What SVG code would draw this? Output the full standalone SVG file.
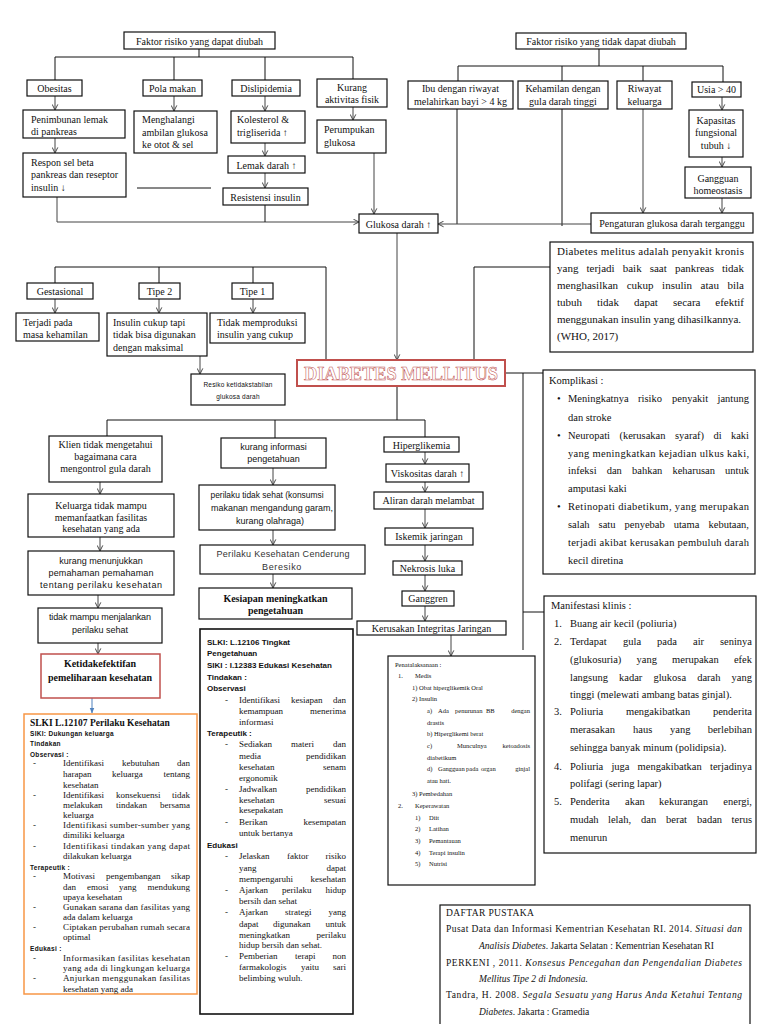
<svg xmlns="http://www.w3.org/2000/svg" width="768" height="1024" viewBox="0 0 768 1024">
<defs>
<style>
text{font-family:"Liberation Serif","Times New Roman",serif;font-size:10px;fill:#111;dominant-baseline:central}
.c{text-anchor:middle}
.e{text-anchor:end}
.s{font-family:"Liberation Sans",Arial,sans-serif;font-size:9px}
.b{font-weight:bold}
.i{font-style:italic}
.m{font-size:10.5px}
.d{font-size:11px}
.p{font-size:6.5px}
.l9{font-size:9px}
.h8{font-family:"Liberation Sans",Arial,sans-serif;font-size:8px;font-weight:bold}
.h6{font-family:"Liberation Sans",Arial,sans-serif;font-size:6.5px;font-weight:bold;letter-spacing:0.3px}
.bx{fill:#fff;stroke:#111;stroke-width:1.2}
.ln{fill:none;stroke:#111;stroke-width:1}
.ar{fill:none;stroke:#444;stroke-width:1;marker-end:url(#ah)}
</style>
<marker id="ah" viewBox="0 0 10 10" refX="9" refY="5" markerWidth="7" markerHeight="7" markerUnits="userSpaceOnUse" orient="auto"><path d="M1,1 L9,5 L1,9" fill="none" stroke="#444" stroke-width="1.4"/></marker>
<marker id="ahb" viewBox="0 0 10 10" refX="9" refY="5" markerWidth="6" markerHeight="6" markerUnits="userSpaceOnUse" orient="auto"><path d="M0,1 L10,5 L0,9 z" fill="#4f81bd"/></marker>
</defs>
<rect width="768" height="1024" fill="#fff"/>

<g id="connectors">
<path class="ln" d="M199,49 V57 M55,57 H353 M55,57 V80 M174,57 V80 M265,57 V80 M353,57 V79"/>
<path class="ar" d="M55,96 V110"/>
<path class="ar" d="M55,138 V153"/>
<path class="ar" d="M174,96 V111"/>
<path class="ar" d="M265,96 V111"/>
<path class="ar" d="M265,143 V156"/>
<path class="ar" d="M265,173 V188"/>
<path class="ar" d="M353,107 V120"/>
<path class="ar" d="M57,197 V222 H359"/>
<path class="ln" d="M265,205 V222 M137,188 H211"/>
<path class="ar" d="M374,153 V214"/>
<path class="ln" d="M599,49 V66 M458,66 H723 M458,66 V81 M562,66 V81 M643,66 V81 M723,66 V82"/>
<path class="ar" d="M722,97 V110"/>
<path class="ar" d="M722,157 V167"/>
<path class="ar" d="M722,198 V213"/>
<path class="ar" d="M643,109 V213"/>
<path class="ln" d="M457,109 V224 M562,109 V226"/>
<path class="ar" d="M591,224 H438"/>
<path class="ar" d="M397,233 V360"/>
<path class="ln" d="M326,360 V267 H55 V283 M159,267 V283 M253,267 V283"/>
<path class="ar" d="M55,299 V313"/>
<path class="ar" d="M159,299 V313"/>
<path class="ar" d="M253,299 V313"/>
<path class="ar" d="M200,356 V374"/>
<path class="ln" d="M474,360 V267 H550"/>
<path class="ln" d="M505,373 H543 M523,373 V650 M523,612 H544"/>
<path class="ln" d="M397,386 V420 M107,436 V420 H425 V437 M275,420 V438"/>
<path class="ar" d="M100,482 V494"/>
<path class="ar" d="M100,537 V551"/>
<path class="ar" d="M98,595 V608"/>
<path class="ar" d="M98,643 V654"/>
<path d="M92,698 V713" fill="none" stroke="#4f81bd" stroke-width="1" marker-end="url(#ahb)"/>
<path class="ar" d="M273,468 V485"/>
<path class="ar" d="M273,530 V545"/>
<path class="ar" d="M273,574 V588"/>
<path class="ar" d="M425,452 V464"/>
<path class="ar" d="M425,482 V492"/>
<path class="ar" d="M425,509 V528"/>
<path class="ar" d="M425,545 V561"/>
<path class="ar" d="M425,575 V591"/>
<path class="ar" d="M425,606 V621"/>
<path class="ar" d="M451,635 V656"/>
</g>

<g id="n-faktor-ubah"><rect class="bx" x="124" y="32" width="151" height="17"/><text class="c" x="199.5" y="41">Faktor risiko yang dapat diubah</text></g>
<g id="n-obesitas"><rect class="bx" x="27" y="80" width="55" height="16"/><text class="c" x="54.5" y="88.5">Obesitas</text></g>
<g id="n-pola"><rect class="bx" x="143" y="80" width="59" height="16"/><text class="c" x="172.5" y="88.5">Pola makan</text></g>
<g id="n-dislipidemia"><rect class="bx" x="232" y="80" width="68" height="16"/><text class="c" x="266" y="88.5">Dislipidemia</text></g>
<g id="n-kurang-aktivitas"><rect class="bx" x="317" y="79" width="70" height="28"/><text class="c" x="352" y="87">Kurang</text><text class="c" x="352" y="99">aktivitas fisik</text></g>
<g id="n-penimbunan"><rect class="bx" x="23" y="110" width="102" height="28"/><text x="31" y="119">Penimbunan lemak</text><text x="31" y="131">di pankreas</text></g>
<g id="n-respon"><rect class="bx" x="23" y="153" width="103" height="44"/><text x="31" y="162">Respon sel beta</text><text x="31" y="174">pankreas dan reseptor</text><text x="31" y="187">insulin ↓</text></g>
<g id="n-menghalangi"><rect class="bx" x="134" y="111" width="83" height="42"/><text x="142" y="119">Menghalangi</text><text x="142" y="132">ambilan glukosa</text><text x="142" y="144">ke otot &amp; sel</text></g>
<g id="n-kolesterol"><rect class="bx" x="231" y="111" width="74" height="32"/><text x="237" y="119">Kolesterol &amp;</text><text x="237" y="132">trigliserida ↑</text></g>
<g id="n-lemak"><rect class="bx" x="228" y="156" width="77" height="17"/><text class="c" x="266.5" y="165">Lemak darah ↑</text></g>
<g id="n-resistensi"><rect class="bx" x="223" y="188" width="85" height="17"/><text class="c" x="265.5" y="197">Resistensi insulin</text></g>
<g id="n-perumpukan"><rect class="bx" x="317" y="120" width="69" height="33"/><text x="324" y="129">Perumpukan</text><text x="324" y="142">glukosa</text></g>
<g id="n-glukosa"><rect class="bx" x="359" y="214" width="79" height="19"/><text class="c" x="398.5" y="224">Glukosa darah ↑</text></g>

<g id="n-faktor-tidak"><rect class="bx" x="516" y="33" width="170" height="16"/><text class="c" x="601" y="41.5">Faktor risiko yang tidak dapat diubah</text></g>
<g id="n-ibu"><rect class="bx" x="408" y="81" width="105" height="28"/><text class="c" x="460.5" y="88.5">Ibu dengan riwayat</text><text class="c" x="460.5" y="101">melahirkan bayi &gt; 4 kg</text></g>
<g id="n-kehamilan"><rect class="bx" x="518" y="81" width="90" height="28"/><text class="c" x="563" y="88.5">Kehamilan dengan</text><text class="c" x="563" y="101">gula darah tinggi</text></g>
<g id="n-riwayat"><rect class="bx" x="617" y="81" width="55" height="28"/><text class="c" x="644.5" y="88.5">Riwayat</text><text class="c" x="644.5" y="101">keluarga</text></g>
<g id="n-usia"><rect class="bx" x="692" y="82" width="49" height="15"/><text class="c" x="716.5" y="89.5">Usia &gt; 40</text></g>
<g id="n-kapasitas"><rect class="bx" x="689" y="110" width="54" height="47"/><text class="c" x="716" y="120">Kapasitas</text><text class="c" x="716" y="132">fungsional</text><text class="c" x="716" y="145">tubuh ↓</text></g>
<g id="n-gangguan"><rect class="bx" x="685" y="167" width="66" height="31"/><text class="c" x="718" y="178">Gangguan</text><text class="c" x="718" y="190">homeostasis</text></g>
<g id="n-pengaturan"><rect class="bx" x="591" y="213" width="162" height="20"/><text class="c" x="672" y="223">Pengaturan glukosa darah terganggu</text></g>

<g id="n-gestasional"><rect class="bx" x="27" y="283" width="66" height="16"/><text class="c" x="60" y="291.5">Gestasional</text></g>
<g id="n-tipe2"><rect class="bx" x="139" y="283" width="41" height="16"/><text class="c" x="159.5" y="291.5">Tipe 2</text></g>
<g id="n-tipe1"><rect class="bx" x="232" y="283" width="41" height="16"/><text class="c" x="252.5" y="291.5">Tipe 1</text></g>
<g id="n-terjadi"><rect class="bx" x="16" y="313" width="83" height="28"/><text x="23" y="322">Terjadi pada</text><text x="23" y="334">masa kehamilan</text></g>
<g id="n-insulin-cukup"><rect class="bx" x="107" y="313" width="100" height="43"/><text x="113" y="322">Insulin cukup tapi</text><text x="113" y="334">tidak bisa digunakan</text><text x="113" y="347">dengan maksimal</text></g>
<g id="n-tidak-memproduksi"><rect class="bx" x="210" y="313" width="95" height="30"/><text x="217" y="322">Tidak memproduksi</text><text x="217" y="334">insulin yang cukup</text></g>
<g id="n-resiko"><rect class="bx" x="191" y="374" width="94" height="31"/><text class="c s" x="238" y="384" style="font-size:6.5px;letter-spacing:0.2px">Resiko ketidakstabilan</text><text class="c s" x="238" y="396" style="font-size:6.5px;letter-spacing:0.2px">glukosa darah</text></g>

<g id="n-dm"><rect x="297" y="360" width="208" height="26" fill="#fff" stroke="#c0504d" stroke-width="2"/><text class="c b" x="401" y="373.5" textLength="194" lengthAdjust="spacingAndGlyphs" style="font-size:19px;fill:#fff;stroke:#c0504d;stroke-width:0.55">DIABETES MELLITUS</text></g>

<g id="n-definisi"><rect class="bx" x="550" y="242" width="203" height="110"/>
<text class="d" x="557" y="251" textLength="187" lengthAdjust="spacing">Diabetes melitus adalah penyakit kronis</text>
<text class="d" x="557" y="268">yang</text><text class="d" x="586.5" y="268">terjadi</text><text class="d" x="622.7" y="268">baik</text><text class="d" x="649.7" y="268">saat</text><text class="d" x="674.9" y="268">pankreas</text><text class="d e" x="744" y="268">tidak</text>
<text class="d" x="557" y="285">menghasilkan</text><text class="d" x="626.7" y="285">cukup</text><text class="d" x="662.1" y="285">insulin</text><text class="d" x="700.6" y="285">atau</text><text class="d e" x="744" y="285">bila</text>
<text class="d" x="557" y="302">tubuh</text><text class="d" x="597" y="302">tidak</text><text class="d" x="634" y="302">dapat</text><text class="d" x="673" y="302">secara</text><text class="d e" x="744" y="302">efektif</text>
<text class="d" x="557" y="319" textLength="184" lengthAdjust="spacing">menggunakan insulin yang dihasilkannya.</text>
<text class="d" x="557" y="336">(WHO, 2017)</text>
</g>

<g id="n-komplikasi"><rect class="bx" x="543" y="370" width="212" height="204"/>
<text class="m" x="549" y="380">Komplikasi :</text>
<text class="m" x="557" y="398">•</text><text class="m" x="557" y="435">•</text><text class="m" x="557" y="506">•</text>
<text class="m" x="568" y="398">Meningkatnya</text><text class="m" x="638" y="398">risiko</text><text class="m" x="672" y="398">penyakit</text><text class="m e" x="749" y="398">jantung</text>
<text class="m" x="568" y="417">dan stroke</text>
<text class="m" x="568" y="435">Neuropati</text><text class="m" x="619.4" y="435">(kerusakan</text><text class="m" x="674.9" y="435">syaraf)</text><text class="m" x="713.4" y="435">di</text><text class="m e" x="749" y="435">kaki</text>
<text class="m" x="568" y="453" textLength="181" lengthAdjust="spacing">yang meningkatkan kejadian ulkus kaki,</text>
<text class="m" x="568" y="470">infeksi</text><text class="m" x="606.7" y="470">dan</text><text class="m" x="632" y="470">bahkan</text><text class="m" x="672.4" y="470">keharusan</text><text class="m e" x="749" y="470">untuk</text>
<text class="m" x="568" y="488">amputasi kaki</text>
<text class="m" x="568" y="506" textLength="181" lengthAdjust="spacing">Retinopati diabetikum, yang merupakan</text>
<text class="m" x="568" y="524">salah</text><text class="m" x="598.6" y="524">satu</text><text class="m" x="624.5" y="524">penyebab</text><text class="m" x="673.7" y="524">utama</text><text class="m e" x="749" y="524">kebutaan,</text>
<text class="m" x="568" y="542" textLength="181" lengthAdjust="spacing">terjadi akibat kerusakan pembuluh darah</text>
<text class="m" x="568" y="560">kecil diretina</text>
</g>

<g id="n-manifestasi"><rect class="bx" x="544" y="596" width="212" height="257"/>
<text class="m" x="551" y="605">Manifestasi klinis :</text>
<text class="m" x="554" y="623">1.</text><text class="m" x="554" y="641">2.</text><text class="m" x="554" y="711">3.</text><text class="m" x="554" y="766">4.</text><text class="m" x="554" y="801">5.</text>
<text class="m" x="570" y="623">Buang air kecil (poliuria)</text>
<text class="m" x="570" y="641">Terdapat</text><text class="m" x="623" y="641">gula</text><text class="m" x="657" y="641">pada</text><text class="m" x="693" y="641">air</text><text class="m e" x="752" y="641">seninya</text>
<text class="m" x="570" y="659">(glukosuria)</text><text class="m" x="636.5" y="659">yang</text><text class="m" x="672.1" y="659">merupakan</text><text class="m e" x="752" y="659">efek</text>
<text class="m" x="570" y="677">langsung</text><text class="m" x="619" y="677">kadar</text><text class="m" x="653.4" y="677">glukosa</text><text class="m" x="697.2" y="677">darah</text><text class="m e" x="752" y="677">yang</text>
<text class="m" x="570" y="694">tinggi (melewati ambang batas ginjal).</text>
<text class="m" x="570" y="711">Poliuria</text><text class="m" x="626" y="711">mengakibatkan</text><text class="m e" x="752" y="711">penderita</text>
<text class="m" x="570" y="729">merasakan</text><text class="m" x="633" y="729">haus</text><text class="m" x="670" y="729">yang</text><text class="m e" x="752" y="729">berlebihan</text>
<text class="m" x="570" y="747">sehingga banyak minum (polidipsia).</text>
<text class="m" x="570" y="766">Poliuria</text><text class="m" x="611.4" y="766">juga</text><text class="m" x="637.6" y="766">mengakibatkan</text><text class="m e" x="752" y="766">terjadinya</text>
<text class="m" x="570" y="783">polifagi (sering lapar)</text>
<text class="m" x="570" y="801">Penderita</text><text class="m" x="625" y="801">akan</text><text class="m" x="659" y="801">kekurangan</text><text class="m e" x="752" y="801">energi,</text>
<text class="m" x="570" y="819">mudah</text><text class="m" x="608" y="819">lelah,</text><text class="m" x="641" y="819">dan</text><text class="m" x="666" y="819">berat</text><text class="m" x="697" y="819">badan</text><text class="m e" x="752" y="819">terus</text>
<text class="m" x="570" y="837">menurun</text>
</g>

<g id="n-daftar"><rect class="bx" x="440" y="905" width="310" height="130"/>
<text x="446" y="913" style="font-size:9.5px;letter-spacing:0.4px">DAFTAR PUSTAKA</text>
<text x="446" y="929" style="font-size:9.5px" textLength="296" lengthAdjust="spacing">Pusat Data dan Informasi Kementrian Kesehatan RI. 2014. <tspan class="i">Situasi dan</tspan></text>
<text x="479" y="946" style="font-size:9.5px"><tspan class="i">Analisis Diabetes</tspan>. Jakarta Selatan : Kementrian Kesehatan RI</text>
<text x="446" y="963" style="font-size:9.5px" textLength="296" lengthAdjust="spacing">PERKENI , 2011. <tspan class="i">Konsesus Pencegahan dan Pengendalian Diabetes</tspan></text>
<text x="479" y="979" style="font-size:9.5px" class="i">Mellitus Tipe 2 di Indonesia.</text>
<text x="446" y="995" style="font-size:9.5px" textLength="296" lengthAdjust="spacing">Tandra, H. 2008. <tspan class="i">Segala Sesuatu yang Harus Anda Ketahui Tentang</tspan></text>
<text x="479" y="1012" style="font-size:9.5px"><tspan class="i">Diabetes</tspan>. Jakarta : Gramedia</text>
</g>

<g id="n-klien"><rect class="bx" x="49" y="436" width="113" height="46"/><text class="c" x="105.5" y="444">Klien tidak mengetahui</text><text class="c" x="105.5" y="456">bagaimana cara</text><text class="c" x="105.5" y="468">mengontrol gula darah</text></g>
<g id="n-keluarga"><rect class="bx" x="28" y="494" width="146" height="43"/><text class="c" x="101" y="505">Keluarga tidak mampu</text><text class="c" x="101" y="517">memanfaatkan fasilitas</text><text class="c" x="101" y="528">kesehatan yang ada</text></g>
<g id="n-kurang-menunjukkan"><rect class="bx" x="28" y="551" width="146" height="44"/><text class="c s" x="101" y="561">kurang menunjukkan</text><text class="c s" x="101" y="573" textLength="105" lengthAdjust="spacing">pemahaman pemahaman</text><text class="c s" x="101" y="585" textLength="122" lengthAdjust="spacing">tentang perilaku kesehatan</text></g>
<g id="n-tidak-mampu"><rect class="bx" x="38" y="608" width="124" height="35"/><text class="c s" x="100" y="617" textLength="102" lengthAdjust="spacing">tidak mampu menjalankan</text><text class="c s" x="100" y="630">perilaku sehat</text></g>
<g id="n-ketidakefektifan"><rect x="41" y="654" width="119" height="44" fill="#fff" stroke="#c0504d" stroke-width="1.5"/><text class="c b" x="100" y="663">Ketidakefektifan</text><text class="c b" x="100" y="677">pemeliharaan kesehatan</text></g>

<g id="n-slki-12107"><rect x="24" y="714" width="173" height="280" fill="#fff" stroke="#f79646" stroke-width="1.5"/>
<text class="b" x="30" y="723" style="font-size:9.5px">SLKI L.12107 Perilaku Kesehatan</text>
<text class="h6" x="30" y="733">SIKI: Dukungan keluarga</text>
<text class="h6" x="30" y="743">Tindakan</text>
<text class="h6" x="30" y="754">Observasi :</text>
<text class="l9" x="33" y="763">-</text><text class="l9" x="63" y="763">Identifikasi</text><text class="l9" x="122" y="763">kebutuhan</text><text class="l9 e" x="190" y="763">dan</text>
<text class="l9" x="63" y="774">harapan</text><text class="l9" x="112" y="774">keluarga</text><text class="l9 e" x="190" y="774">tentang</text>
<text class="l9" x="63" y="785">kesehatan</text>
<text class="l9" x="33" y="795">-</text><text class="l9" x="63" y="795">Identifikasi</text><text class="l9" x="116" y="795">konsekuensi</text><text class="l9 e" x="190" y="795">tidak</text>
<text class="l9" x="63" y="805">melakukan</text><text class="l9" x="116" y="805">tindakan</text><text class="l9 e" x="190" y="805">bersama</text>
<text class="l9" x="63" y="815">keluarga</text>
<text class="l9" x="33" y="825">-</text><text class="l9" x="63" y="825" textLength="127" lengthAdjust="spacing">Identifikasi sumber-sumber yang</text>
<text class="l9" x="63" y="835">dimiliki keluarga</text>
<text class="l9" x="33" y="846">-</text><text class="l9" x="63" y="846" textLength="127" lengthAdjust="spacing">Identifikasi tindakan yang dapat</text>
<text class="l9" x="63" y="856">dilakukan keluarga</text>
<text class="h6" x="30" y="867">Terapeutik :</text>
<text class="l9" x="33" y="876">-</text><text class="l9" x="63" y="876">Motivasi</text><text class="l9" x="106" y="876">pengembangan</text><text class="l9 e" x="190" y="876">sikap</text>
<text class="l9" x="63" y="887">dan</text><text class="l9" x="87" y="887">emosi</text><text class="l9" x="119" y="887">yang</text><text class="l9 e" x="190" y="887">mendukung</text>
<text class="l9" x="63" y="897">upaya kesehatan</text>
<text class="l9" x="33" y="907">-</text><text class="l9" x="63" y="907" textLength="127" lengthAdjust="spacing">Gunakan sarana dan fasilitas yang</text>
<text class="l9" x="63" y="917">ada dalam keluarga</text>
<text class="l9" x="33" y="927">-</text><text class="l9" x="63" y="927" textLength="127" lengthAdjust="spacing">Ciptakan perubahan rumah secara</text>
<text class="l9" x="63" y="937">optimal</text>
<text class="h6" x="30" y="948">Edukasi :</text>
<text class="l9" x="33" y="958">-</text><text class="l9" x="63" y="958" textLength="127" lengthAdjust="spacing">Informasikan fasilitas kesehatan</text>
<text class="l9" x="63" y="968" textLength="127" lengthAdjust="spacing">yang ada di lingkungan keluarga</text>
<text class="l9" x="33" y="978">-</text><text class="l9" x="63" y="978" textLength="127" lengthAdjust="spacing">Anjurkan menggunakan fasilitas</text>
<text class="l9" x="63" y="989">kesehatan yang ada</text>
</g>

<g id="n-kurang-informasi"><rect class="bx" x="221" y="438" width="105" height="30"/><text class="c s" x="273.5" y="447">kurang informasi</text><text class="c s" x="273.5" y="459">pengetahuan</text></g>
<g id="n-perilaku-tidak-sehat"><rect class="bx" x="199" y="485" width="136" height="45"/><text class="c s" x="267" y="495" textLength="113" lengthAdjust="spacingAndGlyphs">perilaku tidak sehat (konsumsi</text><text class="c s" x="272" y="508" textLength="122" lengthAdjust="spacingAndGlyphs">makanan mengandung garam,</text><text class="c s" x="270" y="521">kurang olahraga)</text></g>
<g id="n-perilaku-kesehatan"><rect class="bx" x="200" y="545" width="165" height="29"/><text class="c s" x="283" y="554" textLength="133" lengthAdjust="spacing" style="fill:#333">Perilaku Kesehatan Cenderung</text><text class="c s" x="282" y="567" style="fill:#333;letter-spacing:0.6px">Beresiko</text></g>
<g id="n-kesiapan"><rect class="bx" x="199" y="588" width="153" height="31"/><text class="c b" x="275.5" y="598">Kesiapan meningkatkan</text><text class="c b" x="275.5" y="610">pengetahuan</text></g>

<g id="n-slki-12106"><rect x="200" y="629" width="153" height="385" fill="#fff" stroke="#111" stroke-width="1.6"/>
<text class="h8" x="207" y="642">SLKI: L.12106 Tingkat</text>
<text class="h8" x="207" y="653">Pengetahuan</text>
<text class="h8" x="207" y="665">SIKI : I.12383 Edukasi Kesehatan</text>
<text class="h8" x="207" y="677">Tindakan :</text>
<text class="h8" x="207" y="688">Observasi</text>
<text class="l9" x="225" y="700">-</text><text class="l9" x="239" y="700">Identifikasi</text><text class="l9" x="291" y="700">kesiapan</text><text class="l9 e" x="346" y="700">dan</text>
<text class="l9" x="239" y="711">kemampuan</text><text class="l9 e" x="346" y="711">menerima</text>
<text class="l9" x="239" y="722">informasi</text>
<text class="h8" x="207" y="733">Terapeutik :</text>
<text class="l9" x="225" y="744">-</text><text class="l9" x="239" y="744">Sediakan</text><text class="l9" x="291" y="744">materi</text><text class="l9 e" x="346" y="744">dan</text>
<text class="l9" x="239" y="756">media</text><text class="l9 e" x="346" y="756">pendidikan</text>
<text class="l9" x="239" y="767">kesehatan</text><text class="l9 e" x="346" y="767">senam</text>
<text class="l9" x="239" y="778">ergonomik</text>
<text class="l9" x="225" y="789">-</text><text class="l9" x="239" y="789">Jadwalkan</text><text class="l9 e" x="346" y="789">pendidikan</text>
<text class="l9" x="239" y="800">kesehatan</text><text class="l9 e" x="346" y="800">sesuai</text>
<text class="l9" x="239" y="810">kesepakatan</text>
<text class="l9" x="225" y="822">-</text><text class="l9" x="239" y="822">Berikan</text><text class="l9 e" x="346" y="822">kesempatan</text>
<text class="l9" x="239" y="833">untuk bertanya</text>
<text class="h8" x="207" y="845">Edukasi</text>
<text class="l9" x="225" y="856">-</text><text class="l9" x="239" y="856">Jelaskan</text><text class="l9" x="287" y="856">faktor</text><text class="l9 e" x="346" y="856">risiko</text>
<text class="l9" x="239" y="868">yang</text><text class="l9 e" x="346" y="868">dapat</text>
<text class="l9" x="239" y="879">mempengaruhi</text><text class="l9 e" x="346" y="879">kesehatan</text>
<text class="l9" x="225" y="890">-</text><text class="l9" x="239" y="890">Ajarkan</text><text class="l9" x="282" y="890">perilaku</text><text class="l9 e" x="346" y="890">hidup</text>
<text class="l9" x="239" y="901">bersih dan sehat</text>
<text class="l9" x="225" y="912">-</text><text class="l9" x="239" y="912">Ajarkan</text><text class="l9" x="285" y="912">strategi</text><text class="l9 e" x="346" y="912">yang</text>
<text class="l9" x="239" y="924">dapat</text><text class="l9" x="273" y="924">digunakan</text><text class="l9 e" x="346" y="924">untuk</text>
<text class="l9" x="239" y="935">meningkatkan</text><text class="l9 e" x="346" y="935">perilaku</text>
<text class="l9" x="239" y="945">hidup bersih dan sehat.</text>
<text class="l9" x="225" y="956">-</text><text class="l9" x="239" y="956">Pemberian</text><text class="l9" x="295" y="956">terapi</text><text class="l9 e" x="346" y="956">non</text>
<text class="l9" x="239" y="967">farmakologis</text><text class="l9" x="301" y="967">yaitu</text><text class="l9 e" x="346" y="967">sari</text>
<text class="l9" x="239" y="978">belimbing wuluh.</text>
</g>

<g id="n-hiperglikemia"><rect class="bx" x="384" y="437" width="75" height="15"/><text class="c" x="421.5" y="445">Hiperglikemia</text></g>
<g id="n-viskositas"><rect class="bx" x="386" y="464" width="83" height="18"/><text class="c" x="427.5" y="473">Viskositas darah ↑</text></g>
<g id="n-aliran"><rect class="bx" x="374" y="492" width="109" height="17"/><text class="c" x="428.5" y="500.5">Aliran darah melambat</text></g>
<g id="n-iskemik"><rect class="bx" x="385" y="528" width="88" height="17"/><text class="c" x="429" y="536.5">Iskemik jaringan</text></g>
<g id="n-nekrosis"><rect class="bx" x="393" y="561" width="69" height="14"/><text class="c" x="427.5" y="568">Nekrosis luka</text></g>
<g id="n-ganggren"><rect class="bx" x="402" y="591" width="52" height="15"/><text class="c" x="428" y="598.5">Ganggren</text></g>
<g id="n-kerusakan"><rect class="bx" x="357" y="621" width="149" height="14"/><text class="c" x="431.5" y="628">Kerusakan Integritas Jaringan</text></g>

<g id="n-penatalaksanaan"><rect class="bx" x="388" y="656" width="147" height="229"/>
<text class="p" x="395" y="664">Penatalaksanaan :</text>
<text class="p" x="398" y="675">1.</text><text class="p" x="415" y="675">Medis</text>
<text class="p" x="412" y="687">1) Obat hiperglikemik Oral</text>
<text class="p" x="412" y="698">2) Insulin</text>
<text class="p" x="427" y="710">a)</text><text class="p" x="438" y="710">Ada</text><text class="p" x="455" y="710">penurunan</text><text class="p" x="486" y="710">BB</text><text class="p e" x="530" y="710">dengan</text>
<text class="p" x="427" y="722">drastis</text>
<text class="p" x="427" y="733">b) Hiperglikemi berat</text>
<text class="p" x="427" y="745">c)</text><text class="p" x="457" y="745">Munculnya</text><text class="p e" x="530" y="745">ketoadosis</text>
<text class="p" x="427" y="757">diabetikum</text>
<text class="p" x="427" y="768">d)</text><text class="p" x="438" y="768">Gangguan</text><text class="p" x="466" y="768">pada</text><text class="p" x="481" y="768">organ</text><text class="p e" x="530" y="768">ginjal</text>
<text class="p" x="427" y="780">atau hati.</text>
<text class="p" x="412" y="793">3) Pembedahan</text>
<text class="p" x="398" y="805">2.</text><text class="p" x="415" y="805">Keperawatan</text>
<text class="p" x="415" y="817">1)</text><text class="p" x="429" y="817">Diit</text>
<text class="p" x="415" y="828">2)</text><text class="p" x="429" y="828">Latihan</text>
<text class="p" x="415" y="840">3)</text><text class="p" x="429" y="840">Pemantauan</text>
<text class="p" x="415" y="852">4)</text><text class="p" x="429" y="852">Terapi insulin</text>
<text class="p" x="415" y="863">5)</text><text class="p" x="429" y="863">Nutrisi</text>
</g>
</svg>
